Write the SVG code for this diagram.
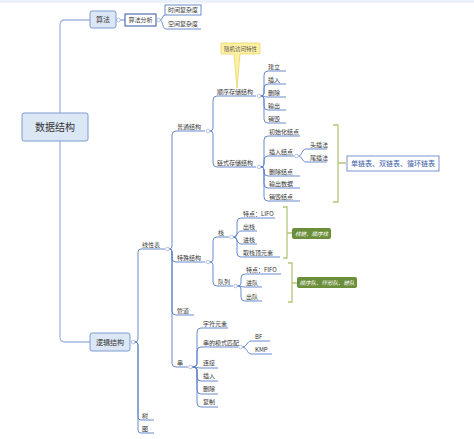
<svg xmlns="http://www.w3.org/2000/svg" width="474" height="439" viewBox="0 0 474 439">
<style>
text{font-family:"Noto Sans CJK SC","Noto Sans",sans-serif;fill:#333;font-size:6px}
.c{text-anchor:middle}
.l{fill:none;stroke:#5a7ec8;stroke-width:0.9}
.rl{fill:none;stroke:#a3b6dc;stroke-width:1.3}
.b{fill:#dce7f5;stroke:#7e9ccf;stroke-width:1}
.k{fill:#fff;stroke:#8aa0cc;stroke-width:0.6}
.br{fill:none;stroke:#b2c878;stroke-width:1.3}
.g{fill:#6b8e3a}
.gt{fill:#fff;font-size:5.5px;font-style:italic;text-anchor:middle}
</style>
<rect width="474" height="439" fill="#fff"/>
<rect width="474" height="3" fill="#eaf1fa"/>
<g id="connectors">
<path class="rl" d="M60,113 V25 Q60,20 65,20 H90"/>
<path class="rl" d="M60,141 V337 Q60,342 65,342 H90"/>
<path class="l" d="M116,20 H125"/>
<path class="l" d="M160,20 C163,20 162,15 165,15"/>
<path class="l" d="M160,20 C163,20 162,29 166,29 H201"/>
<path class="l" d="M135,342 Q138,342 138,339 V252 Q138,249 141,249 H165"/>
<path class="l" d="M135,342 Q138,342 138,345 V417 Q138,420 141,420 H154"/>
<path class="l" d="M135,342 Q138,342 138,345 V430 Q138,433 141,433 H154"/>
<path class="l" d="M169.5,249 Q172,249 172,246 V135 Q172,131 176,131 H205"/>
<path class="l" d="M169.5,249 Q172,249 172,252 V258 Q172,262 176,262 H205"/>
<path class="l" d="M169.5,249 Q172,249 172,252 V311 Q172,315 176,315 H194"/>
<path class="l" d="M169.5,249 Q172,249 172,252 V363 Q172,367 176,367 H188"/>
<path class="l" d="M210,131 Q213,131 213,128 V100 Q213,96 217,96 H256"/>
<path class="l" d="M210,131 Q213,131 213,134 V163 Q213,167 217,167 H256"/>
<path class="l" d="M261,96 Q264,96 264,93 V75 Q264,71 268,71 H286"/>
<path class="l" d="M261,96 Q264,96 264,93 V88 Q264,84 268,84 H286"/>
<path class="l" d="M261,96 C264,96 264,97 268,97 H286"/>
<path class="l" d="M261,96 Q264,96 264,99 V106 Q264,110 268,110 H286"/>
<path class="l" d="M261,96 Q264,96 264,99 V119 Q264,123 268,123 H286"/>
<path class="l" d="M261,167 Q264,167 264,164 V140 Q264,136 268,136 H300"/>
<path class="l" d="M261,167 Q264,167 264,164 V160 Q264,156 268,156 H294"/>
<path class="l" d="M261,167 Q264,167 264,170 V172 Q264,176 268,176 H300"/>
<path class="l" d="M261,167 Q264,167 264,170 V184 Q264,188 268,188 H300"/>
<path class="l" d="M261,167 Q264,167 264,170 V197 Q264,201 268,201 H300"/>
<path class="l" d="M298.5,156 C302,156 302,149 306,149 H327"/>
<path class="l" d="M298.5,156 C302,156 302,162 306,162 H327"/>
<path class="l" d="M210,262 Q213,262 213,259 V241 Q213,237 217,237 H229"/>
<path class="l" d="M210,262 Q213,262 213,265 V282 Q213,286 217,286 H233"/>
<path class="l" d="M233.5,237 Q237,237 237,234 V222 Q237,218 241,218 H275"/>
<path class="l" d="M233.5,237 C237,237 237,231 241,231 H257"/>
<path class="l" d="M233.5,237 C237,237 237,244 241,244 H257"/>
<path class="l" d="M233.5,237 Q237,237 237,240 V253 Q237,257 241,257 H280"/>
<path class="l" d="M237.5,286 Q241,286 241,283 V278 Q241,274 245,274 H281"/>
<path class="l" d="M237.5,286 C241,286 241,287 245,287 H262"/>
<path class="l" d="M237.5,286 Q241,286 241,289 V297 Q241,301 245,301 H262"/>
<path class="l" d="M192.5,367 Q197,367 197,363 V332 Q197,328 201,328 H228"/>
<path class="l" d="M192.5,367 Q197,367 197,363 V351 Q197,347 201,347 H238"/>
<path class="l" d="M192.5,367 C197,367 197,368 201,368 H218"/>
<path class="l" d="M192.5,367 Q197,367 197,371 V377 Q197,381 201,381 H218"/>
<path class="l" d="M192.5,367 Q197,367 197,371 V390 Q197,394 201,394 H218"/>
<path class="l" d="M192.5,367 Q197,367 197,371 V403 Q197,407 201,407 H218"/>
<path class="l" d="M242.5,347 C247,347 247,341 251,341 H270"/>
<path class="l" d="M242.5,347 C247,347 247,354 251,354 H272"/>
<path class="br" d="M333,125 H338 V202 H333 M338,163 H346"/>
<path class="br" d="M283,207 H287 V258 H283 M287,233 H292"/>
<path class="br" d="M288,263 H292 V302 H288 M292,283 H297"/>
</g>
<g id="root"><rect class="b" x="22" y="113" width="66" height="28" rx="2"/><text class="c" x="55" y="130.5" style="font-size:10px">数据结构</text></g>
<g id="suanfa"><rect class="b" x="90" y="11" width="26" height="17" rx="2"/><text class="c" x="103" y="22.3" style="font-size:7px">算法</text><circle class="k" cx="118.5" cy="20" r="1.8"/></g>
<g id="suanfafenxi"><rect x="125" y="14" width="31" height="12" fill="#fff" stroke="#2f52a0" stroke-width="1"/><text class="c" x="140.5" y="22">算法分析</text><circle class="k" cx="158.5" cy="20" r="1.8"/></g>
<g id="shijian"><rect x="165" y="5" width="36" height="10" fill="#fff" stroke="#5a7ec8" stroke-width="0.9"/><text class="c" x="183" y="12">时间复杂度</text></g>
<g id="kongjian"><text x="168" y="26">空间复杂度</text></g>
<g id="luoji"><rect class="b" x="90" y="333" width="40" height="18" rx="2"/><text class="c" x="110" y="344.5" style="font-size:7px">逻辑结构</text><circle class="k" cx="133" cy="342" r="1.8"/></g>
<g id="xianxingbiao"><text x="142" y="247">线性表</text><circle class="k" cx="167.5" cy="249" r="1.8"/></g>
<g id="shu"><text x="142" y="418">树</text></g>
<g id="tu"><text x="142" y="431">图</text></g>
<g id="putong"><text x="177" y="129">普通结构</text><circle class="k" cx="208" cy="131" r="1.8"/></g>
<g id="teshu"><text x="177" y="260">特殊结构</text><circle class="k" cx="208" cy="262" r="1.8"/></g>
<g id="guandao"><text x="177" y="313">管道</text></g>
<g id="chuan"><text x="177" y="365">串</text><circle class="k" cx="190.5" cy="367" r="1.8"/></g>
<g id="shunxu"><text x="217" y="94">顺序存储结构</text><circle class="k" cx="259" cy="96" r="1.8"/></g>
<g id="callout"><path d="M222,43 H259 Q260,43 260,44 V53 Q260,54 259,54 H240 L237,88 L234,54 H222 Q221,54 221,53 V44 Q221,43 222,43 Z" fill="#fff1a3" stroke="#e6cf5a" stroke-width="0.7"/><text class="c" x="240.5" y="50.8" style="font-size:5.5px;fill:#555">随机访问特性</text></g>
<g id="jianli"><text x="268" y="69">建立</text></g>
<g id="charu1"><text x="268" y="82">插入</text></g>
<g id="shanchu1"><text x="268" y="95">删除</text></g>
<g id="shuchu1"><text x="268" y="108">输出</text></g>
<g id="xiaohui1"><text x="268" y="121">销毁</text></g>
<g id="lianshi"><text x="217" y="165">链式存储结构</text><circle class="k" cx="259" cy="167" r="1.8"/></g>
<g id="chushihua"><text x="269" y="134">初始化结点</text></g>
<g id="charujiedian"><text x="269" y="154">插入结点</text><circle class="k" cx="296.5" cy="156" r="1.8"/></g>
<g id="shanchujiedian"><text x="269" y="174">删除结点</text></g>
<g id="shuchushuju"><text x="269" y="186">输出数据</text></g>
<g id="xiaohuijiedian"><text x="269" y="199">销毁结点</text></g>
<g id="touchafa"><text x="310" y="147">头插法</text></g>
<g id="weichafa"><text x="310" y="160">尾插法</text></g>
<g id="lianbiao"><rect x="347" y="156" width="92" height="15" fill="#fff" stroke="#6a87c9" stroke-width="0.9"/><text class="c" x="393" y="166" style="font-size:7px;fill:#3b5ca8">单链表、双链表、循环链表</text></g>
<g id="zhan"><text x="218" y="235">栈</text><circle class="k" cx="231.5" cy="237" r="1.8"/></g>
<g id="lifo"><text x="243" y="216">特点：LIFO</text></g>
<g id="chuzhan"><text x="243" y="229">出栈</text></g>
<g id="jinzhan"><text x="243" y="242">进栈</text></g>
<g id="quzhanding"><text x="243" y="255">取栈顶元素</text></g>
<g id="zhanlian"><rect class="g" x="292" y="228" width="39" height="11" rx="2"/><text class="gt" x="311.5" y="235.5">栈链、顺序栈</text></g>
<g id="duilie"><text x="218" y="284">队列</text><circle class="k" cx="235.5" cy="286" r="1.8"/></g>
<g id="fifo"><text x="246" y="272">特点：FIFO</text></g>
<g id="jindui"><text x="246" y="285">进队</text></g>
<g id="chudui"><text x="246" y="299">出队</text></g>
<g id="shunxudui"><rect class="g" x="297" y="277" width="60" height="11" rx="2"/><text class="gt" x="327" y="284.5">顺序队、环形队、链队</text></g>
<g id="zifu"><text x="203" y="326">字符元素</text></g>
<g id="moshi"><text x="203" y="345">串的模式匹配</text><circle class="k" cx="240.5" cy="347" r="1.8"/></g>
<g id="bf"><text x="255" y="339">BF</text></g>
<g id="kmp"><text x="255" y="352">KMP</text></g>
<g id="lianjie"><text x="203" y="365">连接</text></g>
<g id="charu2"><text x="203" y="378">插入</text></g>
<g id="shanchu2"><text x="203" y="391">删除</text></g>
<g id="fuzhi"><text x="203" y="404">复制</text></g>
</svg>
